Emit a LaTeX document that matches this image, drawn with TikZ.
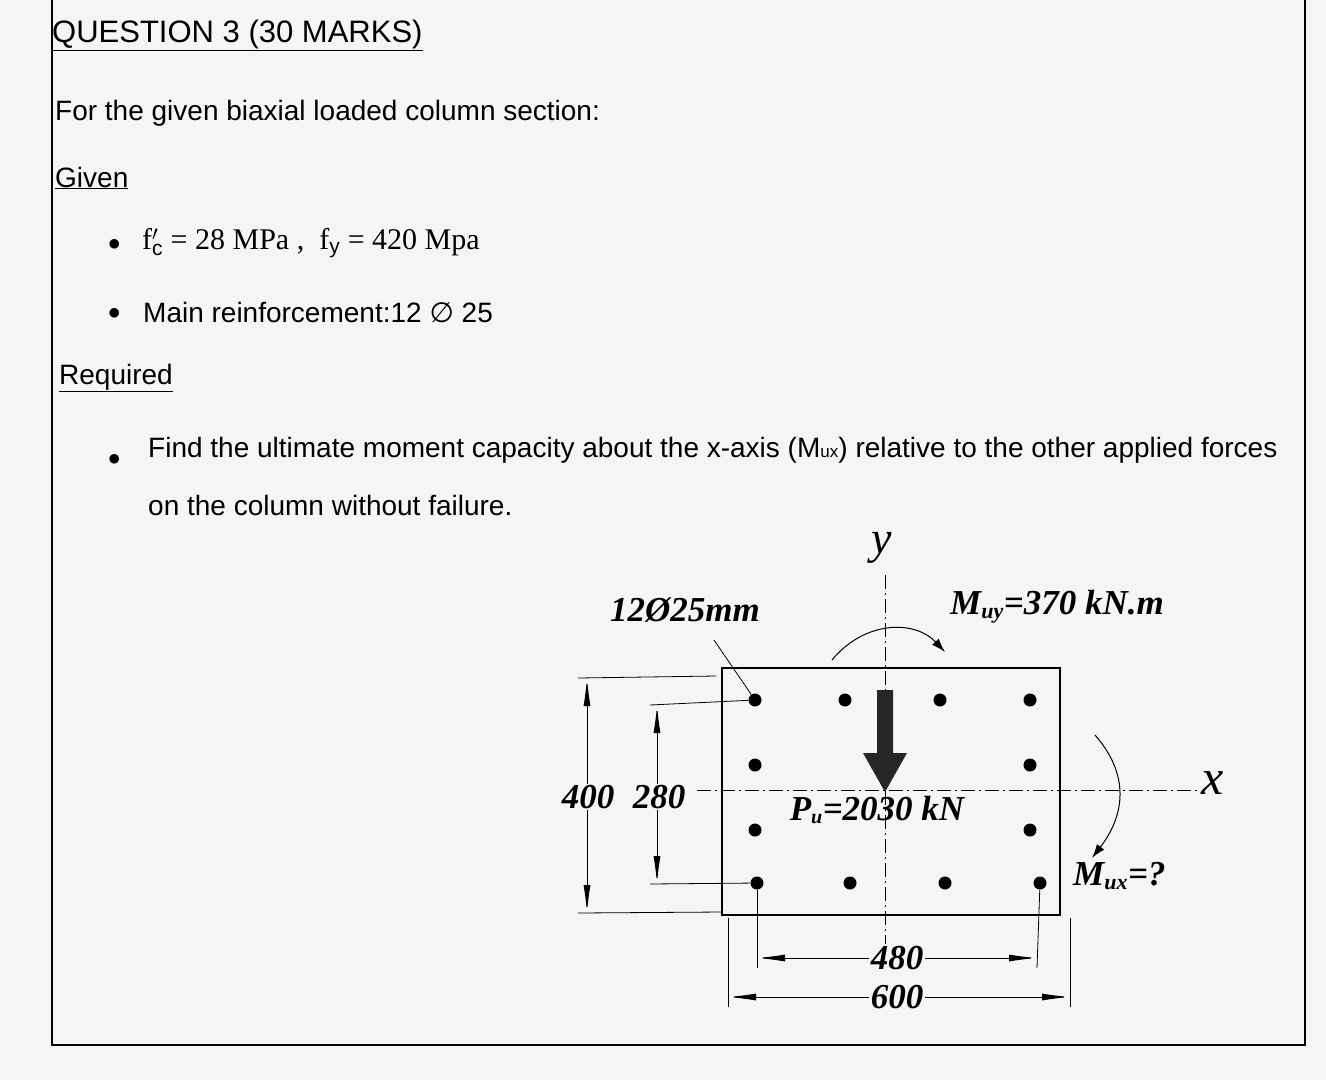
\documentclass[tikz,border=0pt]{standalone}
\usepackage{fontspec}
\setmainfont{Liberation Sans}
\newfontfamily\tms{Liberation Serif}
\newfontfamily\djv{DejaVu Sans}
\usetikzlibrary{arrows.meta}
\begin{document}
\begin{tikzpicture}[x=1pt,y=-1pt,
  body/.style={anchor=west,inner sep=0pt,font=\fontsize{28}{32}\selectfont},
  dg/.style={inner sep=0pt,font=\fontsize{35}{38}\selectfont\tms\bfseries\itshape},
  bar/.style={circle,fill=black,inner sep=0pt,minimum size=13pt},
  dim/.style={line width=1pt,{Latex[length=28pt,width=7pt]}-{Latex[length=28pt,width=7pt]}},
  ext/.style={line width=0.8pt},
  axis/.style={line width=0.8pt,dash pattern=on 14pt off 4pt on 2pt off 4pt}]
\fill[gray!8] (0,0) rectangle (1326,1080);
\useasboundingbox (0,0) rectangle (1326,1080);
\draw[line width=2.5pt] (52,-5) -- (52,1045) -- (1305,1045) -- (1305,-5);
\node[body,font=\fontsize{31}{34}\selectfont] (t) at (52,35) {\underline{QUESTION 3 (30 MARKS)}};
\node[body] (a) at (55,113) {For the given biaxial loaded column section:};
\node[body] (g) at (55,178) {\underline{Given}};
\node[body] (b1) at (108,245) {$\bullet$};
\node[body,font=\fontsize{30}{32}\selectfont\tms] (l1) at (142,243) {f$'_{\mathrm{c}}$ = 28 MPa ,\ \ f$_{\mathrm{y}}$ = 420 Mpa};
\node[body] (b2) at (108,314) {$\bullet$};
\node[body] (l2) at (143,312) {Main reinforcement:12 {\djv ∅} 25};
\node[body] (r) at (59,378) {\underline{Required}};
\node[body] (b3) at (108,460) {$\bullet$};
\node[body] (l3) at (148,450) {Find the ultimate moment capacity about the x-axis (M{\fontsize{17}{17}\selectfont ux}) relative to the other applied forces};
\node[body] (l4) at (148,505) {on the column without failure.};
% section
\draw[line width=1.5pt] (722,668) rectangle (1060,915);
\foreach \n/\x/\y in {a1/755/700,a2/845/700,a3/940/700,a4/1030/700,b1/755/765,b2/1030/765,c1/755/830,c2/1030/830,d1/757/883,d2/850/883,d3/945/883,d4/1040/883}
  \node[bar] (\n) at (\x,\y) {};
\coordinate (yt) at (885,575); \coordinate (yb) at (885,965);
\draw[axis] (yt) -- (yb);
\coordinate (xl) at (697,790); \coordinate (xr) at (1197,790);
\draw[axis] (xl) -- (xr);
\node[dg,font=\fontsize{46}{46}\selectfont\tms\itshape] (yl) at (882,548) {y};
\node[dg,font=\fontsize{50}{50}\selectfont\tms\itshape] (xlab) at (1213,783) {x};
\fill[black!85] (877,690) -- (893,690) -- (893,753) -- (907,753) -- (885,792) -- (863,753) -- (877,753) -- cycle;
\node[dg] (pu) at (877,810) {P\textsubscript{\fontsize{20}{20}\selectfont u}=2030 kN};
\coordinate (m1) at (832,660); \coordinate (m2) at (945,652);
\draw[line width=1pt,-{Latex[length=14pt,width=9pt]}] (m1) .. controls (865,620) and (915,620) .. (m2);
\node[dg] (muy) at (1057,607) {M\textsubscript{\fontsize{22}{22}\selectfont uy}=370 kN.m};
\node[dg] (rb) at (685,610) {12Ø25mm};
\draw[line width=0.8pt] (714,640) -- (a1);
\coordinate (n1) at (1095,735); \coordinate (n2) at (1092,858);
\draw[line width=1pt,-{Latex[length=14pt,width=9pt]}] (n1) .. controls (1130,775) and (1125,815) .. (n2);
\node[dg,anchor=west] (mux) at (1073,876) {M\textsubscript{\fontsize{22}{22}\selectfont ux}=?};
% dimensions
\coordinate (e1) at (578,678); \coordinate (e2) at (578,913);
\draw[ext] (e1) -- (716,676); \draw[ext] (e2) -- (722,912);
\draw[dim] (587,678) -- (587,913);
\coordinate (f1) at (650,705); \coordinate (f2) at (650,884);
\draw[ext] (f1) -- (a1); \draw[ext] (f2) -- (d1);
\draw[dim] (657,705) -- (657,884);
\node[dg,fill=gray!8,inner sep=1pt] (d400) at (588,797) {400};
\node[dg,fill=gray!8,inner sep=1pt] (d280) at (659,797) {280};
\draw[ext] (d1) -- (757,968); \draw[ext] (d4) -- (1037,968);
\draw[ext] (728,918) -- (728,1007); \draw[ext] (1070,918) -- (1070,1007);
\draw[dim] (757,958) -- (1037,958);
\draw[dim] (728,997) -- (1070,997);
\node[dg,fill=gray!8,inner sep=2pt] (d480) at (897,958) {480};
\node[dg,fill=gray!8,inner sep=2pt] (d600) at (897,997) {600};
\end{tikzpicture}
\end{document}
